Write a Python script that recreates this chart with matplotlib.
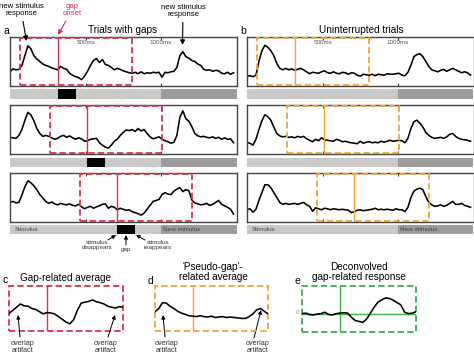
import numpy as np
import matplotlib
matplotlib.use("Agg")
import matplotlib.pyplot as plt
from matplotlib.patches import Rectangle

plt.rcParams['font.family'] = ['Liberation Sans', 'DejaVu Sans']

# Data (trace height as fraction of the panel)
time_ms = np.arange(-10, 1500, 20)          # 76 samples per trial
tick_ms = [500, 1000]
next_stim_ms = 1000
gap_onsets = [310, 510, 710]
gap_len = 120
window = (-250, 500)

gap_trial_1 = [0.29, 0.35, 0.33, 0.34, 0.42, 0.62, 0.82, 0.76, 0.62, 0.55, 0.50, 0.45, 0.42, 0.40, 0.37, 0.35,
               0.33, 0.40, 0.36, 0.34, 0.26, 0.22, 0.19, 0.17, 0.13, 0.20, 0.30, 0.42, 0.52, 0.56, 0.48, 0.54,
               0.44, 0.42, 0.38, 0.33, 0.36, 0.34, 0.31, 0.29, 0.27, 0.26, 0.28, 0.25, 0.29, 0.25, 0.27, 0.26,
               0.28, 0.27, 0.28, 0.18, 0.28, 0.27, 0.29, 0.30, 0.38, 0.62, 0.70, 0.60, 0.57, 0.52, 0.50, 0.45,
               0.42, 0.34, 0.32, 0.33, 0.30, 0.32, 0.31, 0.26, 0.25, 0.28, 0.24, 0.27]
gap_trial_2 = [0.34, 0.33, 0.32, 0.38, 0.50, 0.69, 0.85, 0.80, 0.68, 0.52, 0.42, 0.36, 0.38, 0.36, 0.33, 0.30,
               0.32, 0.36, 0.38, 0.34, 0.37, 0.33, 0.30, 0.33, 0.31, 0.26, 0.27, 0.30, 0.31, 0.32, 0.23, 0.18,
               0.14, 0.12, 0.18, 0.26, 0.30, 0.38, 0.44, 0.49, 0.48, 0.50, 0.46, 0.52, 0.47, 0.50, 0.42, 0.35,
               0.31, 0.33, 0.35, 0.30, 0.27, 0.25, 0.22, 0.24, 0.38, 0.75, 0.88, 0.72, 0.67, 0.56, 0.42, 0.37,
               0.35, 0.36, 0.34, 0.33, 0.35, 0.32, 0.34, 0.30, 0.33, 0.30, 0.31, 0.23]
gap_trial_3 = [0.40, 0.42, 0.39, 0.40, 0.55, 0.72, 0.84, 0.80, 0.74, 0.66, 0.56, 0.49, 0.42, 0.38, 0.41, 0.37,
               0.35, 0.38, 0.36, 0.35, 0.37, 0.34, 0.33, 0.36, 0.31, 0.27, 0.30, 0.32, 0.28, 0.31, 0.33, 0.36,
               0.37, 0.28, 0.32, 0.30, 0.25, 0.28, 0.26, 0.24, 0.25, 0.21, 0.19, 0.17, 0.14, 0.18, 0.26, 0.34,
               0.42, 0.44, 0.46, 0.56, 0.60, 0.57, 0.56, 0.63, 0.67, 0.70, 0.62, 0.66, 0.64, 0.45, 0.39, 0.37,
               0.35, 0.36, 0.38, 0.34, 0.36, 0.40, 0.44, 0.36, 0.33, 0.30, 0.26, 0.16]

plain_trial_1 = [0.20, 0.21, 0.19, 0.22, 0.50, 0.72, 0.83, 0.79, 0.72, 0.62, 0.46, 0.36, 0.33, 0.36, 0.33, 0.35,
                 0.32, 0.34, 0.36, 0.33, 0.29, 0.25, 0.28, 0.27, 0.26, 0.29, 0.31, 0.27, 0.26, 0.29, 0.26, 0.25,
                 0.28, 0.27, 0.24, 0.27, 0.26, 0.22, 0.20, 0.24, 0.23, 0.22, 0.24, 0.21, 0.24, 0.23, 0.22, 0.25,
                 0.24, 0.24, 0.25, 0.26, 0.22, 0.21, 0.28, 0.42, 0.60, 0.64, 0.66, 0.60, 0.50, 0.40, 0.33, 0.31,
                 0.29, 0.32, 0.34, 0.30, 0.33, 0.36, 0.33, 0.30, 0.27, 0.29, 0.27, 0.22]
plain_trial_2 = [0.23, 0.22, 0.18, 0.30, 0.50, 0.68, 0.80, 0.76, 0.69, 0.55, 0.42, 0.37, 0.35, 0.36, 0.34, 0.35,
                 0.33, 0.36, 0.34, 0.36, 0.31, 0.28, 0.25, 0.30, 0.27, 0.33, 0.29, 0.28, 0.27, 0.26, 0.30, 0.28,
                 0.25, 0.26, 0.24, 0.23, 0.22, 0.21, 0.26, 0.22, 0.24, 0.25, 0.23, 0.24, 0.23, 0.26, 0.24, 0.26,
                 0.28, 0.26, 0.27, 0.28, 0.27, 0.23, 0.32, 0.52, 0.66, 0.69, 0.63, 0.55, 0.44, 0.38, 0.34, 0.32,
                 0.33, 0.34, 0.32, 0.35, 0.40, 0.42, 0.36, 0.32, 0.30, 0.29, 0.28, 0.26]
plain_trial_3 = [0.25, 0.27, 0.20, 0.26, 0.44, 0.60, 0.76, 0.76, 0.70, 0.60, 0.50, 0.40, 0.36, 0.38, 0.36, 0.37,
                 0.38, 0.36, 0.38, 0.40, 0.35, 0.32, 0.22, 0.29, 0.27, 0.25, 0.28, 0.27, 0.25, 0.27, 0.26, 0.25,
                 0.26, 0.25, 0.24, 0.19, 0.21, 0.24, 0.25, 0.23, 0.24, 0.25, 0.26, 0.28, 0.25, 0.26, 0.25, 0.26,
                 0.25, 0.24, 0.27, 0.25, 0.25, 0.21, 0.30, 0.50, 0.63, 0.67, 0.69, 0.66, 0.52, 0.40, 0.35, 0.32,
                 0.33, 0.35, 0.32, 0.34, 0.38, 0.42, 0.36, 0.36, 0.38, 0.34, 0.32, 0.30]

avg_time = np.arange(-250, 501, 25)          # 31 samples around (pseudo-)gap onset
gap_avg = [0.39, 0.46, 0.53, 0.60, 0.56, 0.55, 0.50, 0.48, 0.43, 0.38, 0.41, 0.40, 0.38, 0.32, 0.26, 0.20,
           0.16, 0.25, 0.46, 0.62, 0.64, 0.66, 0.69, 0.65, 0.63, 0.60, 0.55, 0.53, 0.51, 0.54, 0.53]
pseudo_avg = [0.43, 0.50, 0.63, 0.62, 0.55, 0.50, 0.44, 0.40, 0.37, 0.34, 0.33, 0.32, 0.34, 0.32, 0.31, 0.33,
              0.30, 0.31, 0.32, 0.30, 0.31, 0.30, 0.29, 0.28, 0.28, 0.32, 0.38, 0.47, 0.50, 0.44, 0.38]
deconv = [0.00, 0.01, -0.02, -0.03, -0.01, 0.00, 0.03, -0.02, -0.03, 0.00, 0.01, 0.02, 0.01, -0.08, -0.15, -0.17,
          -0.19, -0.12, 0.01, 0.14, 0.25, 0.30, 0.34, 0.33, 0.29, 0.24, 0.19, 0.03, 0.00, 0.01, 0.04]

red = '#d9344a'
orange = '#f0a43a'
green = '#3fae4f'
light_bar = '#c9c9c9'
dark_bar = '#9c9c9c'

W, H = 474, 358
fig = plt.figure(figsize=(W / 100, H / 100), dpi=100)


def box(x0, y0, x1, y1):
    # pixel box (from top-left) -> figure fraction rect
    return [x0 / W, 1 - y1 / H, (x1 - x0) / W, (y1 - y0) / H]


def fp(x, y):
    return (x / W, 1 - y / H)


dash = (0, (3.5, 1.8))
row_y = [(37, 86), (105, 154), (173, 222)]
bar_y = [(89, 99), (158, 167), (225, 234)]
col_x = [(10, 236.5), (247, 473.5)]
panels = [([gap_trial_1, gap_trial_2, gap_trial_3], red, True),
          ([plain_trial_1, plain_trial_2, plain_trial_3], orange, False)]

trace_axes = {}
for c, (traces, color, has_gap) in enumerate(panels):
    x0, x1 = col_x[c]
    for r in range(3):
        ax = fig.add_axes(box(x0, row_y[r][0], x1, row_y[r][1]))
        ax.plot(time_ms, traces[r], color='black', lw=1.15)
        ax.set_xlim(-10, 1510)
        ax.set_ylim(0, 1)
        ax.set_xticks(tick_ms)
        ax.set_yticks([])
        ax.tick_params(axis='x', direction='in', top=True, bottom=True, length=2.5, width=0.8,
                       labelbottom=False, color='#333333')
        for s in ax.spines.values():
            s.set_color('#444444')
            s.set_linewidth(1.0)
        onset = gap_onsets[r]
        ax.add_patch(Rectangle((onset + window[0], 0.02), window[1] - window[0], 0.95,
                               transform=ax.get_xaxis_transform(), fill=False, ec=color,
                               lw=1.3, ls=dash, clip_on=False, zorder=3))
        ax.axvline(onset, color=color, lw=1.0, zorder=3)
        if r == 0:
            for t in tick_ms:
                ax.text(t, 0.88, f"{t}ms", transform=ax.get_xaxis_transform(), ha='center', va='center',
                        fontsize=4.5, color='#555555')
        trace_axes[(c, r)] = ax

        # stimulus bar below each trial
        bx = fig.add_axes(box(x0, bar_y[r][0], x1, bar_y[r][1]))
        bx.barh(0, next_stim_ms + 10, left=-10, height=1, color=light_bar)
        bx.barh(0, 510, left=next_stim_ms, height=1, color=dark_bar)
        if has_gap:
            bx.barh(0, gap_len, left=onset, height=1, color='black')
        bx.set_xlim(-10, 1510)
        bx.set_ylim(-0.5, 0.5)
        bx.axis('off')
        if r == 2:
            bx.text(20, 0, "Stimulus", fontsize=4.5, color='#444444', va='center')
            bx.text(next_stim_ms + 15, 0, "Next stimulus", fontsize=4.5, color='#444444', va='center')

# Titles and panel letters
fig.text(*fp(122, 30), "Trials with gaps", fontsize=7.2, ha='center', va='center')
fig.text(*fp(361, 30), "Uninterrupted trials", fontsize=7.2, ha='center', va='center')
fig.text(*fp(6, 31), "a", fontsize=7.5, ha='center', va='center')
fig.text(*fp(243, 31), "b", fontsize=7.5, ha='center', va='center')

# annotations on first trial
head = dict(lw=0.8, mutation_scale=7, shrinkA=1, shrinkB=0)
ax = trace_axes[(0, 0)]
ax.annotate("new stimulus\nresponse", xy=fp(26.5, 41), xycoords='figure fraction', xytext=fp(21, 10),
            textcoords='figure fraction', ha='center', va='center', fontsize=5.6, linespacing=1.1,
            arrowprops=dict(arrowstyle='-|>', color='black', **head))
ax.annotate("gap\nonset", xy=fp(58, 35), xycoords='figure fraction', xytext=fp(72, 10),
            textcoords='figure fraction', ha='center', va='center', fontsize=5.6, color=red, linespacing=1.1,
            arrowprops=dict(arrowstyle='-|>', color=red, **head))
ax.annotate("new stimulus\nresponse", xy=fp(182.5, 45), xycoords='figure fraction', xytext=fp(183, 11),
            textcoords='figure fraction', ha='center', va='center', fontsize=5.6, linespacing=1.1,
            arrowprops=dict(arrowstyle='-|>', color='black', **head))

# annotations below the third gap trial
small = dict(fontsize=4.5, color='#333333', ha='center', va='center', linespacing=1.1)
arrow = dict(arrowstyle='-|>', color='black', lw=0.7, mutation_scale=5.5, shrinkA=0, shrinkB=0)
fig.text(*fp(97, 245), "stimulus\ndisappears", **small)
fig.text(*fp(126, 250), "gap", **small)
fig.text(*fp(158, 245), "stimulus\nreappears", **small)
ax.annotate("", xy=fp(116, 235), xycoords='figure fraction', xytext=fp(108, 240),
            textcoords='figure fraction', arrowprops=arrow)
ax.annotate("", xy=fp(126, 235), xycoords='figure fraction', xytext=fp(126, 245),
            textcoords='figure fraction', arrowprops=arrow)
ax.annotate("", xy=fp(136, 235), xycoords='figure fraction', xytext=fp(145, 240),
            textcoords='figure fraction', arrowprops=arrow)

# Bottom row: averages
bottom = [(box(9, 286, 123, 331), gap_avg, red, (0, 1)),
          (box(155, 286, 268, 331), pseudo_avg, orange, (0, 1)),
          (box(302, 286, 416, 332), deconv, green, (-0.40, 0.60))]
avg_axes = []
for rect, vals, color, ylim in bottom:
    ax = fig.add_axes(rect)
    ax.plot(avg_time, vals, color='black', lw=1.15, zorder=4)
    ax.set_xlim(window)
    ax.set_ylim(ylim)
    ax.axis('off')
    ax.add_patch(Rectangle((window[0], ylim[0]), window[1] - window[0], ylim[1] - ylim[0], fill=False,
                           ec=color, lw=1.3, ls=dash, clip_on=False))
    ax.axvline(0, color=color, lw=1.0)
    avg_axes.append(ax)
avg_axes[2].axhline(0, color=green, lw=1.0)
fig.text(*fp(297, 313), "0", fontsize=4.5, color='#888888', ha='center', va='center')

fig.text(*fp(65, 278), "Gap-related average", fontsize=7.2, ha='center', va='center')
fig.text(*fp(213, 272), "'Pseudo-gap'-\nrelated average", fontsize=7.2, ha='center', va='center',
         linespacing=1.0)
fig.text(*fp(359, 272), "Deconvolved\ngap-related response", fontsize=7.2, ha='center', va='center',
         linespacing=1.0)
fig.text(*fp(5, 280), "c", fontsize=7.5, ha='center', va='center')
fig.text(*fp(150, 281), "d", fontsize=7.5, ha='center', va='center')
fig.text(*fp(297, 281), "e", fontsize=7.5, ha='center', va='center')

# overlap artifact labels
art = dict(fontsize=5.2, ha='center', va='center', color='#333333', linespacing=1.1)
for tx, ty, ax0, ay0, ax1, ay1 in [(23, 347, 20, 337, 18, 315), (106, 347, 108, 337, 115, 315),
                                   (167, 347, 165, 337, 163, 315), (258, 347, 254, 338, 261, 310)]:
    fig.text(*fp(tx, ty), "overlap\nartifact", **art)
    avg_axes[0].annotate("", xy=fp(ax1, ay1), xycoords='figure fraction', xytext=fp(ax0, ay0),
                         textcoords='figure fraction', arrowprops=arrow)

fig.savefig("out.png", dpi=100)
